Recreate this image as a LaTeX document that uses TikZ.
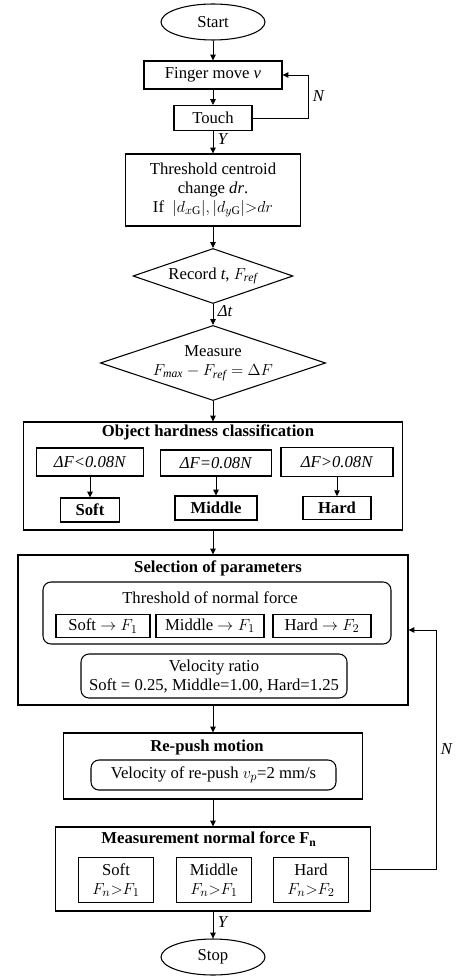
\documentclass[tikz,border=0pt]{standalone}
\usepackage{fontspec}
\setmainfont{Liberation Serif}
\usetikzlibrary{shapes.geometric}
\usetikzlibrary{arrows.meta}

\begin{document}
\begin{tikzpicture}[x=0.75pt,y=-0.75pt,line width=0.8pt,
        font=\fontsize{12.5}{14.25}\selectfont,
        box/.style={draw,rectangle,inner sep=0pt,align=center},
        term/.style={draw,ellipse,inner sep=0pt,minimum width=78pt,minimum height=27pt},
        decide/.style={draw,diamond,aspect=3,inner sep=0pt,align=center},
        rbox/.style={draw,rounded corners=6pt,inner sep=0pt,align=center},
        frame/.style={draw,rectangle,inner sep=0pt},
        arr/.style={line width=0.6pt,arrows = -{Triangle[angle=50:1.7mm]}}]

        % \draw [help lines,step=20] (0,0) grid (474,980);
        \useasboundingbox (0,0) rectangle (474,980);

        \path   (213,22) node (start) [term] {Start}
                (213,75) node (finger) [box,minimum width=103.5pt,minimum height=21pt] {Finger move \textit{v}}
                (213,118) node (touch) [box,minimum width=58.5pt,minimum height=18.75pt] {Touch}
                (213,190) node (centroid) [box,minimum width=131.25pt,minimum height=54pt]
                        {Threshold centroid\\change \textit{dr}.\\If \ $|d_{x\mathrm{G}}|,|d_{y\mathrm{G}}|{>}dr$}
                (213,276) node (record) [decide,minimum width=120pt,minimum height=41.25pt] {Record \textit{t}, $F_{\mathit{ref}}$}
                (213,363) node (measure) [decide,minimum width=156pt,minimum height=51pt]
                        {Measure\\$F_{\mathit{max}}-F_{\mathit{ref}}=\Delta F$}
                (213,476) node (hardness) [frame,minimum width=284.25pt,minimum height=81pt] {}
                (208,432) node (hardnessT) {\textbf{Object hardness classification}}
                (90,462) node (less) [box,minimum width=80pt,minimum height=21pt] {\textit{ΔF<0.08N}}
                (216,463) node (equal) [box,minimum width=83pt,minimum height=19.5pt] {\textit{ΔF=0.08N}}
                (337,462) node (greater) [box,minimum width=84pt,minimum height=22pt] {\textit{ΔF>0.08N}}
                (90,510) node (soft) [box,minimum width=44pt,minimum height=18pt] {\textbf{Soft}}
                (216,508) node (middle) [box,minimum width=61.5pt,minimum height=18pt] {\textbf{Middle}}
                (337,508) node (hard) [box,minimum width=51pt,minimum height=17pt] {\textbf{Hard}};

        \path   (213,630) node (select) [frame,minimum width=292.5pt,minimum height=112.5pt] {}
                (218,568) node (selectT) {\textbf{Selection of parameters}}
                (217,613) node (thres) [rbox,minimum width=261pt,minimum height=46.5pt] {}
                (210,598) node (thresT) {Threshold of normal force}
                (103,626) node (softF) [box,minimum width=70.5pt,minimum height=17.25pt] {Soft $\rightarrow F_1$}
                (210,626) node (middleF) [box,minimum width=81pt,minimum height=17.25pt] {Middle $\rightarrow F_1$}
                (322,626) node (hardF) [box,minimum width=73.5pt,minimum height=17.25pt] {Hard $\rightarrow F_2$}
                (214,676) node (ratio) [rbox,minimum width=199.5pt,minimum height=33pt]
                        {Velocity ratio\\Soft = 0.25, Middle=1.00, Hard=1.25}
                (213,766) node (repush) [frame,minimum width=224.25pt,minimum height=49.5pt] {}
                (207,747) node (repushT) {\textbf{Re-push motion}}
                (213.5,775) node (speed) [rbox,minimum width=183.75pt,minimum height=22.5pt] {Velocity of re-push $v_p$=2 mm/s}
                (213,869) node (fnorm) [frame,minimum width=236.25pt,minimum height=63pt] {}
                (209,839) node (fnormT) {\textbf{Measurement normal force F\textsubscript{n}}}
                (116,880) node (softN) [box,minimum width=56.25pt,minimum height=33.75pt] {Soft\\$F_n{>}F_1$}
                (214,880) node (middleN) [box,minimum width=56.25pt,minimum height=33.75pt] {Middle\\$F_n{>}F_1$}
                (311,880) node (hardN) [box,minimum width=56.25pt,minimum height=33.75pt] {Hard\\$F_n{>}F_2$}
                (213,957) node (stop) [term] {Stop};

        \coordinate (loopA) at (308,0);
        \coordinate (loopB) at (436,0);

        \draw[arr] (start) -- (finger);
        \draw[arr] (finger) -- (touch);
        \draw[arr] (touch) -- node[right,pos=0.35] {\textit{Y}} (centroid);
        \draw[arr] (centroid) -- (record);
        \draw[arr] (record) -- node[right,pos=0.35] {\textit{Δt}} (measure);
        \draw[arr] (measure) -- (hardness);
        \draw[arr] (less) -- (soft);
        \draw[arr] (equal) -- (middle);
        \draw[arr] (greater) -- (hard);
        \draw[arr] (hardness) -- (select);
        \draw[arr] (select) -- (repush);
        \draw[arr] (repush) -- (fnorm);
        \draw[arr] (fnorm) -- node[right,pos=0.4] {\textit{Y}} (stop);

        \draw[arr] (touch) -- (touch -| loopA) -- node[right] {\textit{N}} (finger -| loopA) -- (finger);
        \draw[arr] (fnorm) -- (fnorm -| loopB) -- node[right] {\textit{N}} (select -| loopB) -- (select);

\end{tikzpicture}
\end{document}
